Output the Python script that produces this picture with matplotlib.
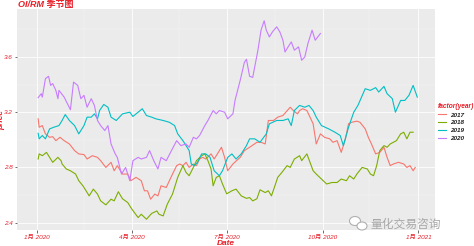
import matplotlib
matplotlib.use("Agg")
import matplotlib.pyplot as plt
import matplotlib.dates as mdates
from matplotlib.ticker import FuncFormatter, MultipleLocator
from matplotlib.patches import Ellipse
import pandas as pd

BASE = "2020-01-01"

# day offsets (from Jan 1) and prices for each year
days_2017 = [1, 2, 5, 8, 12, 15, 18, 22, 26, 31, 36, 40, 45, 48, 53, 58, 61, 66, 71, 74, 77, 82, 87, 90, 95,
             100, 103, 106, 109, 113, 116, 119, 124, 127, 130, 134, 137, 140, 143, 146, 150, 153, 156, 159,
             162, 167, 170, 174, 177, 180, 183, 188, 195, 199, 204, 211, 215, 219, 222, 227, 231, 236, 243,
             246, 250, 252, 255, 259, 262, 265, 268, 272, 276, 281, 284, 288, 292, 296, 299, 302, 307, 310,
             315, 318, 321, 325, 329, 333, 336, 339, 342, 347, 352, 355, 358, 361, 363]
price_2017 = [3.152, 3.091, 3.103, 3.043, 3.018, 3.023, 2.994, 3.018, 2.994, 2.970, 2.922, 2.898, 2.893,
              2.861, 2.885, 2.873, 2.849, 2.800, 2.837, 2.776, 2.813, 2.752, 2.752, 2.704, 2.728, 2.704,
              2.631, 2.631, 2.570, 2.607, 2.594, 2.667, 2.655, 2.704, 2.752, 2.813, 2.825, 2.813, 2.837,
              2.800, 2.825, 2.813, 2.861, 2.873, 2.861, 2.898, 2.861, 2.909, 2.946, 2.873, 2.776, 2.825,
              2.873, 2.922, 2.946, 2.982, 2.982, 2.970, 3.140, 3.140, 3.164, 3.176, 3.236, 3.212, 3.188,
              3.212, 3.225, 3.212, 3.164, 3.116, 2.970, 3.043, 3.018, 3.007, 2.982, 2.994, 2.909, 3.007,
              3.116, 3.127, 3.135, 3.127, 3.079, 3.018, 2.970, 2.898, 2.909, 2.946, 2.873, 2.813, 2.825,
              2.837, 2.825, 2.800, 2.813, 2.776, 2.800]

days_2018 = [1, 2, 5, 9, 12, 15, 20, 23, 24, 28, 32, 37, 40, 44, 47, 50, 54, 58, 61, 66, 71, 74, 78, 82, 87,
             91, 97, 100, 105, 110, 115, 117, 121, 125, 130, 135, 140, 143, 146, 150, 153, 158, 161, 164,
             167, 169, 172, 175, 178, 182, 187, 191, 196, 201, 204, 207, 211, 214, 219, 222, 225, 228, 231,
             235, 240, 243, 247, 252, 254, 259, 262, 265, 268, 273, 278, 283, 288, 292, 297, 300, 304, 307,
             312, 317, 320, 323, 326, 329, 333, 336, 339, 342, 345, 349, 352, 355, 358, 361]
price_2018 = [2.861, 2.898, 2.885, 2.909, 2.873, 2.837, 2.873, 2.849, 2.825, 2.789, 2.776, 2.752, 2.704,
              2.667, 2.631, 2.594, 2.643, 2.607, 2.558, 2.529, 2.570, 2.558, 2.624, 2.573, 2.546, 2.498,
              2.437, 2.461, 2.425, 2.467, 2.485, 2.461, 2.449, 2.534, 2.607, 2.728, 2.813, 2.764, 2.740,
              2.800, 2.849, 2.885, 2.898, 2.849, 2.789, 2.667, 2.728, 2.740, 2.680, 2.609, 2.631, 2.643,
              2.594, 2.576, 2.582, 2.558, 2.573, 2.638, 2.618, 2.631, 2.594, 2.660, 2.728, 2.764, 2.813,
              2.800, 2.861, 2.885, 2.849, 2.898, 2.837, 2.776, 2.752, 2.716, 2.680, 2.691, 2.691, 2.716,
              2.704, 2.740, 2.716, 2.752, 2.800, 2.789, 2.752, 2.740, 2.813, 2.922, 2.958, 2.946, 2.970,
              2.982, 2.994, 3.043, 3.055, 3.007, 3.055, 3.055]

days_2019 = [1, 2, 5, 8, 12, 16, 21, 24, 27, 31, 36, 40, 45, 48, 52, 55, 58, 60, 64, 68, 71, 76, 82, 89, 92,
             97, 101, 105, 110, 114, 121, 127, 132, 135, 140, 143, 146, 148, 151, 154, 158, 162, 166, 170,
             175, 178, 183, 187, 191, 196, 201, 204, 209, 214, 220, 223, 230, 236, 241, 244, 247, 252, 257,
             261, 265, 268, 273, 280, 286, 291, 294, 299, 304, 308, 315, 320, 325, 328, 333, 336, 341, 344,
             349, 353, 357, 361, 365]
price_2019 = [3.047, 3.007, 3.031, 3.007, 3.079, 3.091, 3.103, 3.140, 3.183, 3.140, 3.103, 3.043, 3.103,
              3.164, 3.164, 3.188, 3.152, 3.212, 3.256, 3.236, 3.164, 3.140, 3.188, 3.200, 3.169, 3.200,
              3.225, 3.176, 3.164, 3.152, 3.140, 3.127, 3.103, 3.043, 2.994, 2.958, 2.922, 2.825, 2.813,
              2.837, 2.898, 2.898, 2.873, 2.776, 2.740, 2.776, 2.873, 2.898, 2.861, 2.898, 2.958, 3.007,
              3.007, 2.982, 3.043, 3.116, 3.140, 3.140, 3.152, 3.103, 3.212, 3.249, 3.236, 3.249, 3.212,
              3.164, 3.103, 3.079, 3.055, 3.031, 2.958, 3.091, 3.200, 3.249, 3.370, 3.358, 3.378, 3.346,
              3.387, 3.334, 3.298, 3.200, 3.285, 3.285, 3.322, 3.394, 3.309]

days_2020 = [1, 4, 5, 8, 11, 13, 15, 18, 20, 21, 26, 32, 35, 39, 42, 45, 48, 52, 55, 58, 61, 65, 68, 71, 75,
             77, 81, 85, 89, 92, 97, 100, 105, 108, 112, 116, 119, 124, 129, 134, 138, 143, 146, 150, 153,
             156, 161, 164, 169, 172, 175, 180, 183, 188, 190, 195, 199, 201, 204, 207, 212, 215, 218, 220,
             223, 226, 230, 233, 236, 238, 241, 244, 247, 251, 254, 257, 260, 264, 267, 272]
price_2020 = [3.305, 3.334, 3.309, 3.443, 3.460, 3.394, 3.407, 3.358, 3.298, 3.358, 3.309, 3.218, 3.418,
              3.394, 3.298, 3.322, 3.236, 3.298, 3.249, 3.140, 3.103, 3.067, 3.103, 2.970, 2.898, 2.873,
              2.752, 2.800, 2.704, 2.849, 2.873, 2.861, 2.873, 2.922, 2.849, 2.789, 2.873, 2.849, 2.922,
              2.994, 2.958, 2.970, 2.946, 3.018, 3.007, 3.031, 3.103, 3.140, 3.212, 3.188, 3.212, 3.200,
              3.152, 3.188, 3.285, 3.431, 3.561, 3.583, 3.460, 3.452, 3.649, 3.794, 3.862, 3.794, 3.745,
              3.782, 3.818, 3.782, 3.721, 3.636, 3.673, 3.709, 3.649, 3.673, 3.576, 3.600, 3.697, 3.794,
              3.721, 3.770]

years = ["2017", "2018", "2019", "2020"]
colors = ["#F8766D", "#7CAE00", "#00BFC4", "#C77CFF"]
series_days = [days_2017, days_2018, days_2019, days_2020]
series_price = [price_2017, price_2018, price_2019, price_2020]

tick_dates = ["2020-01-01", "2020-04-01", "2020-07-01", "2020-10-01", "2021-01-01"]
minor_dates = ["2020-02-15", "2020-05-16", "2020-08-16", "2020-11-15"]
y_major = [2.4, 2.8, 3.2, 3.6]

title = "OI/RM 季节图"
xlabel = "Date"
ylabel = "price"
legend_title = "factor(year)"
watermark = "量化交易咨询"

FAM = ["Liberation Sans", "Noto Sans CJK SC", "DejaVu Sans"]
RED = "#E8202A"
plt.rcParams["font.family"] = FAM

fig = plt.figure(figsize=(4.74, 2.46), dpi=100)
ax = fig.add_axes([17.3 / 474, 1 - 230 / 246, (435 - 17.3) / 474, (230 - 9.3) / 246])
ax.set_facecolor("#EBEBEB")
for s in ax.spines.values():
    s.set_visible(False)

base = pd.Timestamp(BASE)
for yr, col, d, p in zip(years, colors, series_days, series_price):
    dates = [base + pd.Timedelta(days=int(v)) for v in d]
    ax.plot(dates, p, color=col, lw=0.8, label=yr, zorder=3)

ax.set_xlim(pd.Timestamp("2019-12-13"), pd.Timestamp("2021-01-17"))
ax.set_ylim(2.347, 3.945)

ax.set_xticks([pd.Timestamp(t) for t in tick_dates])
ax.set_xticks([pd.Timestamp(t) for t in minor_dates], minor=True)
ax.xaxis.set_major_formatter(FuncFormatter(lambda v, pos: f"{mdates.num2date(v).month}月 {mdates.num2date(v).year}"))
ax.set_yticks(y_major)
ax.yaxis.set_minor_locator(MultipleLocator(0.2))
ax.yaxis.set_major_formatter(FuncFormatter(lambda v, pos: f"{v:.1f}"))

ax.grid(which="major", color="white", lw=0.6, zorder=0)
ax.grid(which="minor", color="#F5F5F5", lw=0.35, zorder=0)
ax.set_axisbelow(True)
ax.tick_params(which="major", length=1.8, width=0.5, color="#333333", labelsize=4.6,
               labelcolor=RED, pad=1.5)
ax.tick_params(which="minor", length=0)
for lab in ax.get_xticklabels() + ax.get_yticklabels():
    lab.set_fontstyle("italic")

ax.set_xlabel(xlabel, color=RED, fontsize=6, fontweight="bold", fontstyle="italic", labelpad=0.5)
ax.set_ylabel(ylabel, color=RED, fontsize=6, fontweight="bold", fontstyle="italic")
ax.yaxis.set_label_coords((5.5 - 17.3) / 417.7, 0.5)

fig.text(18 / 474, 1 - 5 / 246, title, color=RED, fontsize=6.5, fontweight="bold", fontstyle="italic",
         ha="left", va="center")

leg = ax.legend(loc="upper left", bbox_to_anchor=(438 / 474, 1 - 103 / 246), bbox_transform=fig.transFigure,
                frameon=False, fontsize=4.6, title=legend_title, title_fontsize=4.8,
                handlelength=1.3, handletextpad=0.6, labelspacing=0.35, borderaxespad=0, borderpad=0)
leg.get_title().set_color(RED)
leg.get_title().set_fontweight("bold")
leg.get_title().set_fontstyle("italic")
leg._legend_box.align = "left"
for t in leg.get_texts():
    t.set_fontweight("bold")
    t.set_fontstyle("italic")
    t.set_color("#222222")

# watermark: WeChat-like icon + text
fig.patches.append(Ellipse((355 / 474, 1 - 221 / 246), 11 / 474, 9 / 246, transform=fig.transFigure,
                           facecolor="white", edgecolor="#B0B0B0", lw=0.8, zorder=9))
fig.patches.append(Ellipse((362 / 474, 1 - 226 / 246), 10 / 474, 8 / 246, transform=fig.transFigure,
                           facecolor="white", edgecolor="#B0B0B0", lw=0.8, zorder=9))
fig.text(370 / 474, 1 - 224 / 246, watermark, color="#A8A8A8", fontsize=8.5,
         family=["Noto Sans CJK SC"], ha="left", va="center", zorder=10)

fig.savefig("out.png", dpi=100)
